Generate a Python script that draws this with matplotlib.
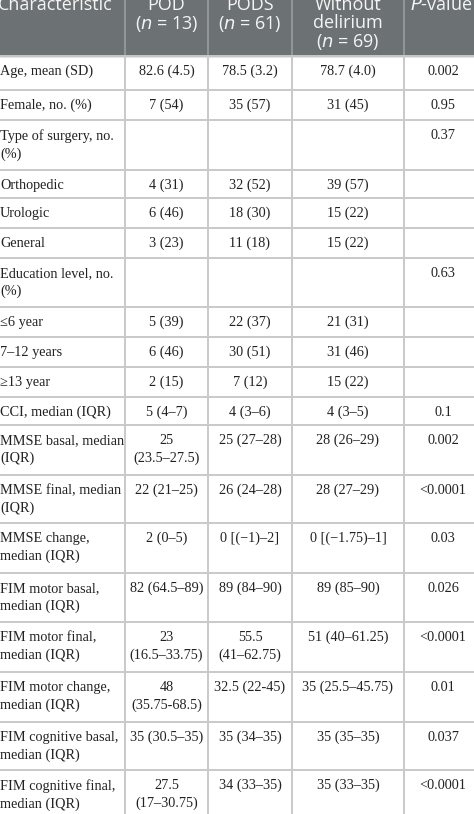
import matplotlib
matplotlib.use("Agg")
import matplotlib.pyplot as plt

headers = ["Characteristic", "POD\n($n$ = 13)", "PODS\n($n$ = 61)", "Without\ndelirium\n($n$ = 69)", "$P$-value"]
characteristics = ["Age, mean (SD)", "Female, no. (%)", "Type of surgery, no.\n(%)", "Orthopedic", "Urologic",
                   "General", "Education level, no.\n(%)", "≤6 year", "7–12 years", "≥13 year", "CCI, median (IQR)",
                   "MMSE basal, median\n(IQR)", "MMSE final, median\n(IQR)", "MMSE change,\nmedian (IQR)",
                   "FIM motor basal,\nmedian (IQR)", "FIM motor final,\nmedian (IQR)", "FIM motor change,\nmedian (IQR)",
                   "FIM cognitive basal,\nmedian (IQR)", "FIM cognitive final,\nmedian (IQR)"]
pod = ["82.6 (4.5)", "7 (54)", "", "4 (31)", "6 (46)", "3 (23)", "", "5 (39)", "6 (46)", "2 (15)", "5 (4–7)",
       "25\n(23.5–27.5)", "22 (21–25)", "2 (0–5)", "82 (64.5–89)", "23\n(16.5–33.75)", "48\n(35.75-68.5)",
       "35 (30.5–35)", "27.5\n(17–30.75)"]
pods = ["78.5 (3.2)", "35 (57)", "", "32 (52)", "18 (30)", "11 (18)", "", "22 (37)", "30 (51)", "7 (12)", "4 (3–6)",
        "25 (27–28)", "26 (24–28)", "0 [(−1)–2]", "89 (84–90)", "55.5\n(41–62.75)", "32.5 (22-45)",
        "35 (34–35)", "34 (33–35)"]
without = ["78.7 (4.0)", "31 (45)", "", "39 (57)", "15 (22)", "15 (22)", "", "21 (31)", "31 (46)", "15 (22)", "4 (3–5)",
           "28 (26–29)", "28 (27–29)", "0 [(−1.75)–1]", "89 (85–90)", "51 (40–61.25)", "35 (25.5–45.75)",
           "35 (35–35)", "35 (33–35)"]
pvalues = ["0.002", "0.95", "0.37", "", "", "", "0.63", "", "", "", "0.1", "0.002", "<0.0001", "0.03", "0.026",
           "<0.0001", "0.01", "0.037", "<0.0001"]

W, H = 474, 814
fig = plt.figure(figsize=(W/100, H/100), dpi=100)
ax = fig.add_axes([0, 0, 1, 1])
ax.set_xlim(0, W); ax.set_ylim(H, 0); ax.axis("off")

xb = [-3, 125, 208, 292, 404, 478]
yb = [0, 56, 90, 120, 170, 198, 228, 258, 307, 337, 367, 397, 425, 475, 523, 573, 622, 672, 722, 770, 830]
gray = "#6c7273"
line = "#c9c9c9"

ax.add_patch(plt.Rectangle((0, 0), W, yb[1], color=gray, zorder=0))
for x in xb[1:-1]:
    ax.plot([x, x], [0, yb[1]], color="#9a9e9f", lw=1.2, zorder=1)
    ax.plot([x, x], [yb[1], H], color=line, lw=1.4, zorder=1)
for y in yb[1:-1]:
    ax.plot([0, W], [y, y], color=line, lw=1.4, zorder=1)

hf = dict(family="Open Sans", fontsize=13, color="#f4f4f4", va="top", linespacing=1.0)
for i, h in enumerate(headers):
    if i == 0:
        ax.text(-2, -4, h, ha="left", **hf)
    else:
        ax.text((xb[i] + xb[i+1]) / 2, -4, h, ha="center", **hf)

bf = dict(family="Liberation Serif", fontsize=10.3, color="#222222", va="top", linespacing=1.45)
cols = [pod, pods, without, pvalues]
for r in range(len(characteristics)):
    ytop = yb[r+1] + 9
    ax.text(0, ytop, characteristics[r], ha="left", **bf)
    for c, vals in enumerate(cols):
        ax.text((xb[c+1] + xb[c+2]) / 2 if c < 3 else 443, ytop, vals[r], ha="center", **bf)

fig.savefig("out.png", dpi=100)
